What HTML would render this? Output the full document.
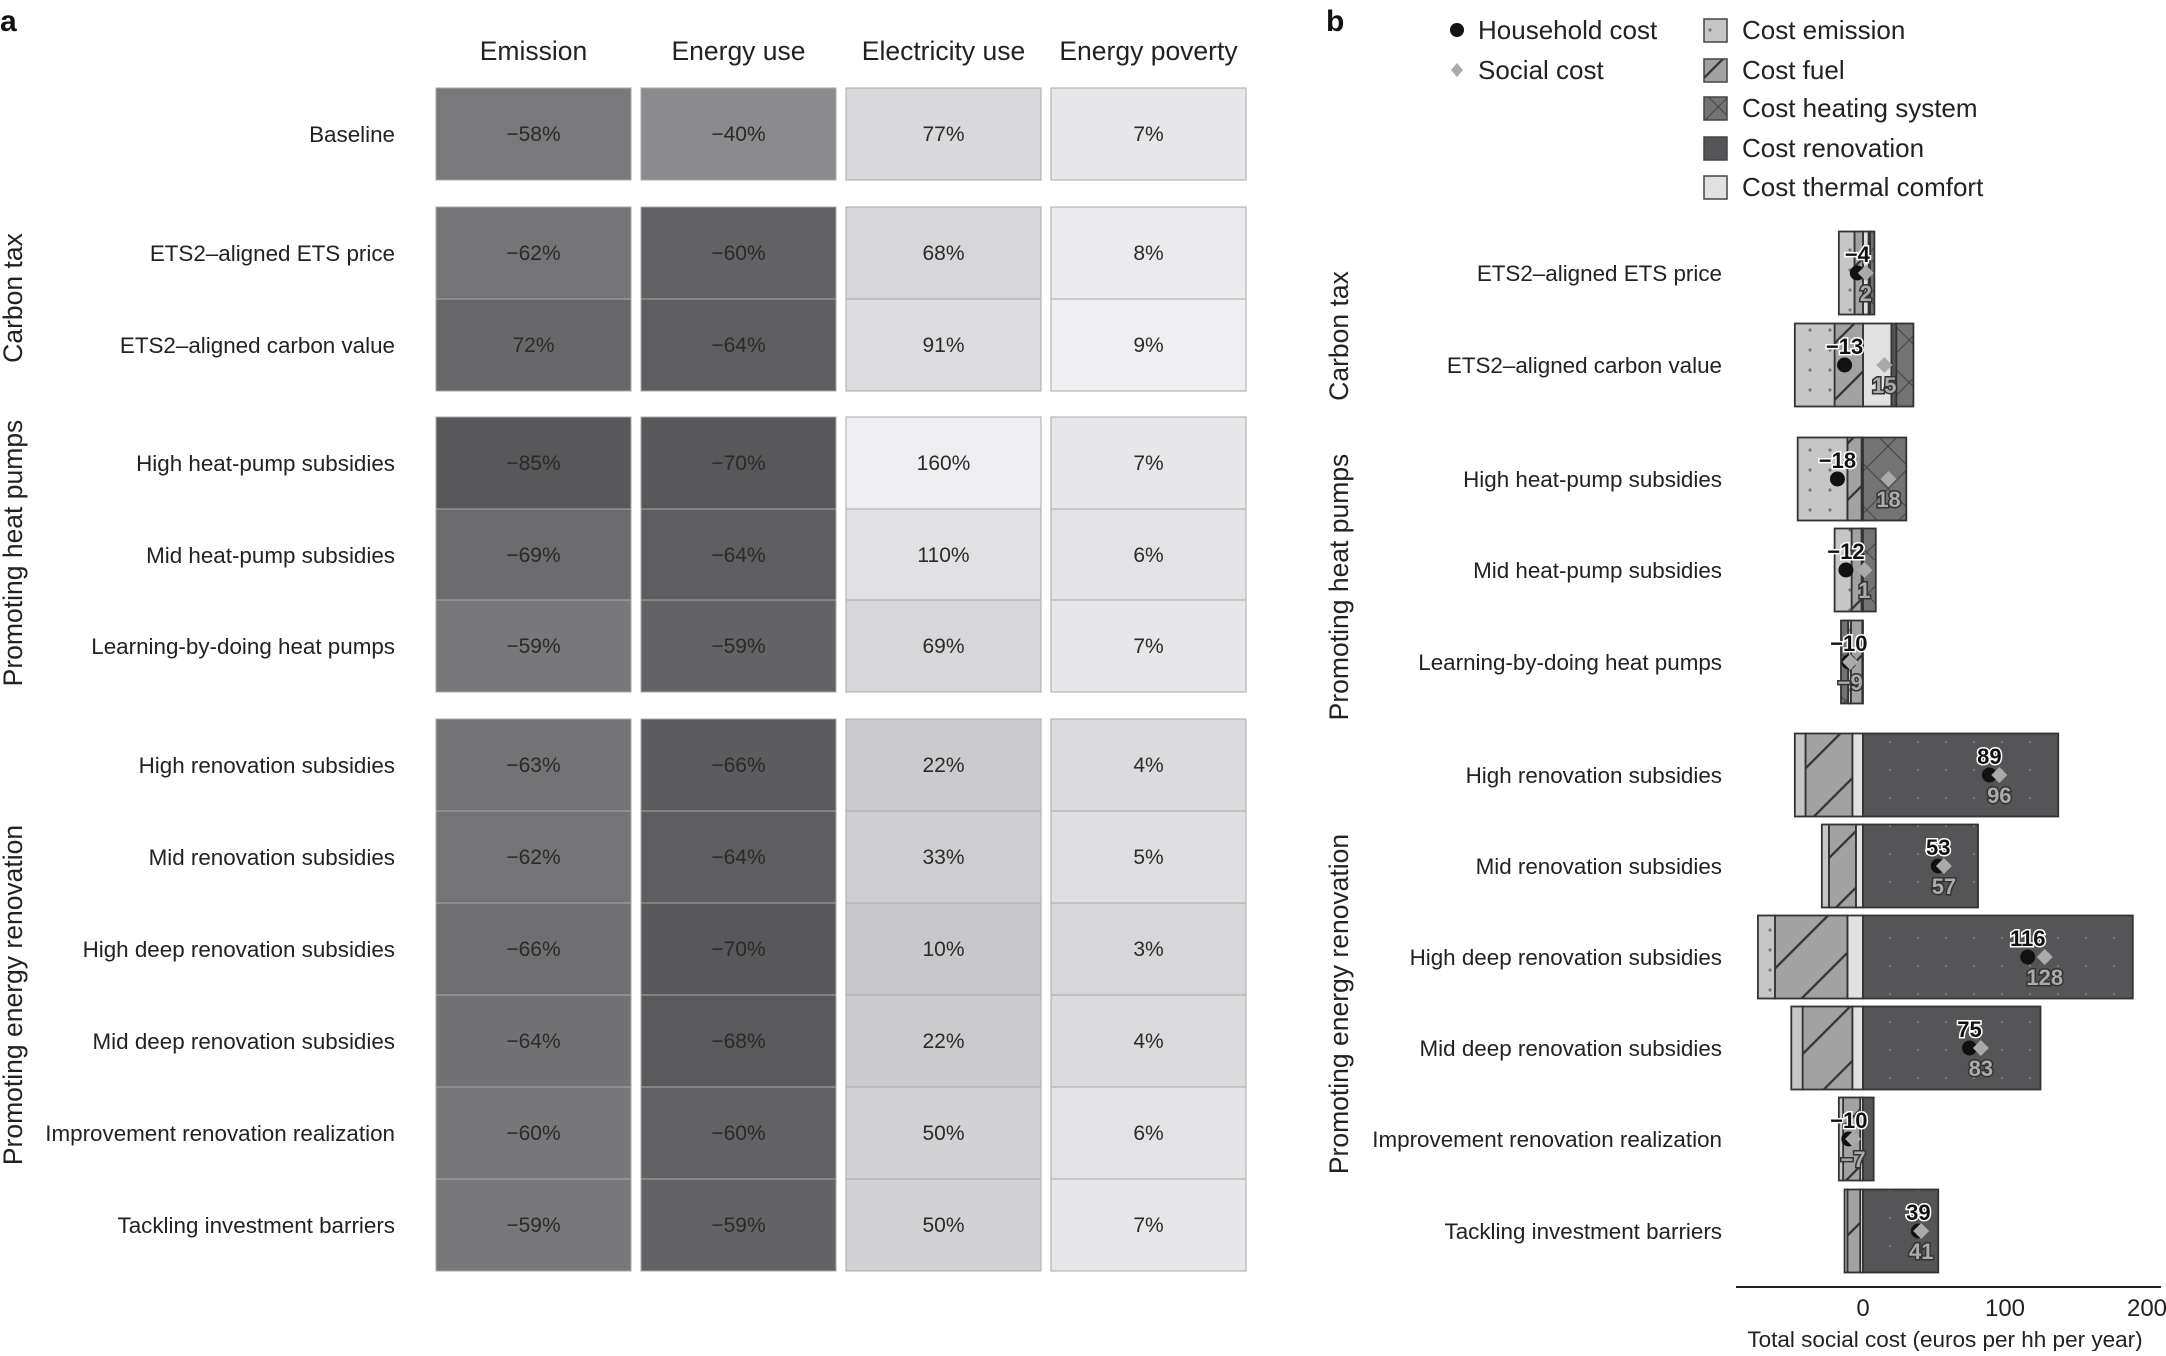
<!DOCTYPE html>
<html><head><meta charset="utf-8">
<style>
html,body{margin:0;padding:0;background:#fff;}
body{width:2166px;height:1351px;overflow:hidden;font-family:"Liberation Sans",sans-serif;}
svg text{font-family:"Liberation Sans",sans-serif;}
</style></head>
<body>
<svg id="chart" width="2166" height="1351" viewBox="0 0 2166 1351" xmlns="http://www.w3.org/2000/svg">
<defs>
<pattern id="pDots" width="20" height="20" patternUnits="userSpaceOnUse"><rect width="20" height="20" fill="#c6c6c6"/><circle cx="10" cy="10" r="1.6" fill="#777"/></pattern>
<pattern id="pDiag" width="40" height="40" patternUnits="userSpaceOnUse" patternTransform="rotate(-45)"><rect width="40" height="40" fill="#a2a2a2"/><line x1="0" y1="20" x2="40" y2="20" stroke="#333" stroke-width="2.2"/></pattern>
<pattern id="pCross" width="30" height="30" patternUnits="userSpaceOnUse" patternTransform="rotate(45)"><rect width="30" height="30" fill="#737373"/><line x1="0" y1="0" x2="30" y2="0" stroke="#444" stroke-width="2"/><line x1="0" y1="0" x2="0" y2="30" stroke="#444" stroke-width="2"/></pattern>
<pattern id="pRen" width="28" height="28" patternUnits="userSpaceOnUse"><rect width="28" height="28" fill="#555557"/><circle cx="14" cy="14" r="1" fill="#888"/></pattern>
</defs>
<text x="0" y="31" font-size="30" font-weight="bold" fill="#111">a</text>
<text x="1326" y="31" font-size="30" font-weight="bold" fill="#111">b</text>
<g id="heat"></g>
<g id="bars"></g>
<g id="legend"></g>
</svg>
<script>
const NS='http://www.w3.org/2000/svg';
const columns=['Emission','Energy use','Electricity use','Energy poverty'];
const scenarios=['Baseline','ETS2–aligned ETS price','ETS2–aligned carbon value','High heat-pump subsidies','Mid heat-pump subsidies','Learning-by-doing heat pumps','High renovation subsidies','Mid renovation subsidies','High deep renovation subsidies','Mid deep renovation subsidies','Improvement renovation realization','Tackling investment barriers'];
const emission=[-58,-62,72,-85,-69,-59,-63,-62,-66,-64,-60,-59];
const energyUse=[-40,-60,-64,-70,-64,-59,-66,-64,-70,-68,-60,-59];
const electricity=[77,68,91,160,110,69,22,33,10,22,50,50];
const poverty=[7,8,9,7,6,7,4,5,3,4,6,7];
const groups=['Carbon tax','Promoting heat pumps','Promoting energy renovation'];

const barScenarios=scenarios.slice(1);
const costEmission=[-11,-28,-35,-12,-2,-7.5,-5,-12,-8,-3,-2];
const costFuel=[-6,-20,-10,-7,-8,-33,-19,-51,-35,-12,-9];
const costHeating=[3,12,30.5,9,-5,0,0,0,0,0,0];
const costRenovation=[1,3.5,0,0,0,137.5,81,190,125,7.5,53];
const costComfort=[4,20,-1,-1,-0.5,-7.5,-5,-11,-7.5,-2,-2];
const householdCost=[-4,-13,-18,-12,-10,89,53,116,75,-10,39];
const socialCost=[2,15,18,1,-9,96,57,128,83,-7,41];
const xTicks=[0,100,200];

function el(tag,attrs,parent,txt){const e=document.createElementNS(NS,tag);for(const k in attrs)e.setAttribute(k,attrs[k]);if(txt!==undefined)e.textContent=txt;parent.appendChild(e);return e;}

// ---- panel a
const heat=document.getElementById('heat');
const colX=[436,641,846,1051], colW=195;
const rowTop=[88,207,299,417,509,600,719,811,903,995,1087,1179], rowH=92;
function interp(v,stops){v=Math.abs(v);if(v<=stops[0][0])return stops[0][1];for(let i=1;i<stops.length;i++){if(v<=stops[i][0]){const a=stops[i-1],b=stops[i];return a[1]+(b[1]-a[1])*(v-a[0])/(b[0]-a[0]);}}return stops[stops.length-1][1];}
const colScales=[[[58,121],[85,88]],[[40,139],[59,99],[70,88]],[[10,200],[160,238]],[[3,215],[9,239]]];
const colData=[emission,energyUse,electricity,poverty];
columns.forEach((c,ci)=>{
  const t=el('text',{x:colX[ci]+colW/2,y:60,'font-size':26.5,'text-anchor':'middle',fill:'#222'},heat,c);
  
  
});
scenarios.forEach((s,ri)=>{
  const y=rowTop[ri];
  const lab=el('text',{x:395,y:y+rowH/2+8,'font-size':22.4,'text-anchor':'end',fill:'#222'},heat,s);
  
  
  colData.forEach((arr,ci)=>{
    const L=Math.round(interp(arr[ri],colScales[ci]));
    const r=el('rect',{x:colX[ci],y:y,width:colW,height:rowH,fill:`rgb(${L},${L},${L+2})`,stroke:'#a8a8a8','stroke-width':1},heat);
    
    
    const v=arr[ri];
    const tv=el('text',{x:colX[ci]+colW/2,y:y+rowH/2+7,'font-size':21,'text-anchor':'middle',fill:'#2a2a2a'},heat,(v<0?'−'+Math.abs(v):v)+'%');
    
    
  });
});
const groupA=[298,553,995];
groups.forEach((g,i)=>{
  const t=el('text',{x:0,y:0,'font-size':26.5,'text-anchor':'middle',fill:'#222',transform:`translate(22,${groupA[i]}) rotate(-90)`},heat,g);
  
  
});

// ---- panel b
const bars=document.getElementById('bars');
const x0=1863, pxPer=1.42;
const xs=v=>x0+v*pxPer;
const rowC=[273,365,479,570,662,775,866,957,1048,1139,1231], bh=83;
const fills={emission:'url(#pDots)',fuel:'url(#pDiag)',heating:'url(#pCross)',renovation:'url(#pRen)',comfort:'#e1e1e2'};
barScenarios.forEach((s,i)=>{
  const yc=rowC[i];
  const lab=el('text',{x:1722,y:yc+8,'font-size':22.4,'text-anchor':'end',fill:'#222'},bars,s);
  
  
  const segs=[['comfort',costComfort[i]],['fuel',costFuel[i]],['emission',costEmission[i]],['renovation',costRenovation[i]],['heating',costHeating[i]]];
  let pos=0,neg=0;
  segs.forEach(([k,v])=>{
    if(v===0)return;
    let a,b;
    if(v>0){a=pos;b=pos+v;pos=b;}else{a=neg+v;b=neg;neg=a;}
    const r=el('rect',{x:xs(a),y:yc-bh/2,width:xs(b)-xs(a),height:bh,fill:fills[k],stroke:'#333','stroke-width':1.8},bars);
    
    
  });
  const hx=xs(householdCost[i]), sx=xs(socialCost[i]);
  const c=el('circle',{cx:hx,cy:yc,r:7.5,fill:'#111'},bars);
  
  
  const d=el('path',{d:`M${sx} ${yc-8}L${sx+8} ${yc}L${sx} ${yc+8}L${sx-8} ${yc}Z`,fill:'#aaa'},bars);
  
  
  const hv=householdCost[i], sv=socialCost[i];
  const ht=el('text',{x:hx,y:yc-11,'font-size':22,'font-weight':'bold','text-anchor':'middle',fill:'#111',stroke:'#fff','stroke-width':3,'paint-order':'stroke'},bars,hv<0?'−'+Math.abs(hv):hv);
  
  
  const st=el('text',{x:sx,y:yc+28,'font-size':22,'font-weight':'bold','text-anchor':'middle',fill:'#aaa',stroke:'#333','stroke-width':3,'paint-order':'stroke'},bars,sv<0?'−'+Math.abs(sv):sv);
  
  
});
const ax=el('line',{x1:1736,y1:1287,x2:2161,y2:1287,stroke:'#222','stroke-width':2},bars);


xTicks.forEach(t=>{
  const tt=el('text',{x:xs(t),y:1316,'font-size':24,'text-anchor':'middle',fill:'#222'},bars,t);
  
  
});
const xt=el('text',{x:1945,y:1347,'font-size':22.5,'text-anchor':'middle',fill:'#222'},bars,'Total social cost (euros per hh per year)');


const groupB=[336,587,1004];
groups.forEach((g,i)=>{
  const t=el('text',{x:0,y:0,'font-size':26.5,'text-anchor':'middle',fill:'#222',transform:`translate(1348,${groupB[i]}) rotate(-90)`},bars,g);
  
  
});

// ---- legend
const lg=document.getElementById('legend');
const lc=el('circle',{cx:1457,cy:30,r:7,fill:'#111'},lg);


const ld=el('path',{d:'M1457 63L1463 70L1457 77L1451 70Z',fill:'#aaa'},lg);


[['Household cost',30],['Social cost',70]].forEach(([t,y])=>{
  const e=el('text',{x:1478,y:y+9,'font-size':26,fill:'#222'},lg,t);
  
  
});
[['Cost emission',fills.emission,30],['Cost fuel',fills.fuel,70],['Cost heating system',fills.heating,108],['Cost renovation','#555557',148],['Cost thermal comfort',fills.comfort,187]].forEach(([t,f,y])=>{
  const r=el('rect',{x:1704,y:y-11,width:23,height:23,fill:f,stroke:'#444','stroke-width':1.5},lg);
  
  
  const e=el('text',{x:1742,y:y+9,'font-size':26,fill:'#222'},lg,t);
  
  
});
</script>
</body></html>
